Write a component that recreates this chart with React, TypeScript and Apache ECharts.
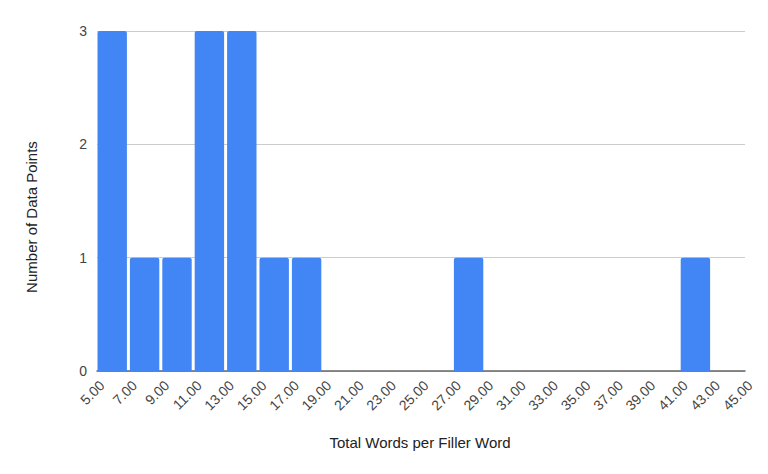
import React, { useEffect, useRef } from 'react';
import * as echarts from 'echarts';

// 直方图分箱（左边界）与计数
const binStarts = [5, 7, 9, 11, 13, 15, 17, 19, 21, 23, 25, 27, 29, 31, 33, 35, 37, 39, 41, 43];
const binWidth = 2;
const counts = [3, 1, 1, 3, 3, 1, 1, 0, 0, 0, 0, 1, 0, 0, 0, 0, 0, 0, 1, 0];
const yTicks = [0, 1, 2, 3];
const xTitle = 'Total Words per Filler Word';
const yTitle = 'Number of Data Points';

const App: React.FC = () => {
  const chartRef = useRef<HTMLDivElement>(null);

  useEffect(() => {
    if (!chartRef.current) return;
    const chart = echarts.init(chartRef.current, undefined, { renderer: 'svg' });

    const data = binStarts
      .map((s, i) => [s, s + binWidth, counts[i]])
      .filter(d => d[2] > 0);

    // 容器在 body 的 8px 边距内，坐标均减去 8
    const option: any = {
      animation: false,
      textStyle: { fontFamily: 'Arial' },
      grid: { left: 89, right: 15, top: 23, bottom: 95 },
      graphic: [
        {
          type: 'text',
          x: 412,
          y: 434,
          style: { text: xTitle, fill: '#222', font: '15px Arial', align: 'center', verticalAlign: 'middle' }
        },
        {
          type: 'text',
          x: 23,
          y: 209,
          rotation: Math.PI / 2,
          style: { text: yTitle, fill: '#222', font: '15px Arial', align: 'center', verticalAlign: 'middle' }
        }
      ],
      xAxis: {
        type: 'value',
        min: 5,
        max: 45,
        interval: 2,
        axisLine: { show: true, lineStyle: { color: '#666', width: 1.5 } },
        axisTick: { show: false },
        splitLine: { show: false },
        axisLabel: {
          rotate: 45,
          margin: 7,
          align: 'right',
          verticalAlign: 'top',
          color: '#444',
          fontSize: 14,
          formatter: (v: number) => v.toFixed(2)
        }
      },
      yAxis: {
        type: 'value',
        min: yTicks[0],
        max: yTicks[yTicks.length - 1],
        interval: 1,
        axisLine: { show: false },
        axisTick: { show: false },
        axisLabel: { color: '#444', fontSize: 14, margin: 10 },
        splitLine: { lineStyle: { color: '#cccccc' } }
      },
      series: [
        {
          type: 'custom',
          data,
          encode: { x: [0, 1], y: 2 },
          renderItem: (params: any, api: any) => {
            const p0 = api.coord([api.value(0), api.value(2)]);
            const p1 = api.coord([api.value(1), 0]);
            return {
              type: 'rect',
              shape: {
                x: p0[0] + 0.5,
                y: p0[1],
                width: p1[0] - p0[0] - 3,
                height: p1[1] - p0[1],
                r: [2, 2, 0, 0]
              },
              style: { fill: '#4285f4' }
            };
          }
        }
      ]
    };

    chart.setOption(option);
    return () => chart.dispose();
  }, []);

  return <div ref={chartRef} style={{ width: 752, height: 458 }} />;
};

export default App;
